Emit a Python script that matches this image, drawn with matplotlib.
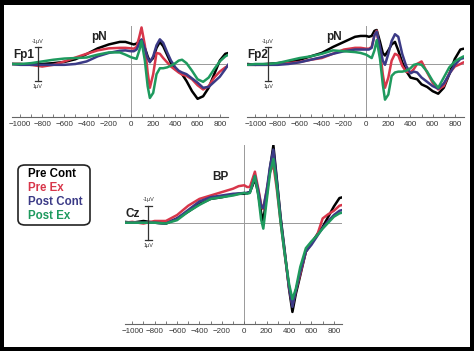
import numpy as np
import matplotlib
matplotlib.use('Agg')
import matplotlib.pyplot as plt
from matplotlib.patches import Rectangle, FancyBboxPatch

plt.rcParams['font.family'] = ['Liberation Sans', 'DejaVu Sans']

# time axis (ms) shared by all panels
t = [-1070, -1000, -900, -800, -700, -600, -500, -400, -300, -200, -100, -50, 0, 25, 50, 75, 95,
     125, 150, 170, 200, 230, 260, 290, 325, 360, 400, 430, 460, 500, 550, 600, 650, 700, 750,
     800, 850, 880]

# amplitudes in microvolts (negative is plotted upward)
fp1_pre_cont = [0.0, 0.0, 0.05, 0.0, -0.05, -0.12, -0.28, -0.58, -0.92, -1.15, -1.3, -1.3, -1.2, -1.15, -1.2,
                -1.35, -1.4, -0.95, -0.45, -0.15, -0.35, -0.95, -1.3, -1.05, -0.55, -0.05, 0.3, 0.45, 0.6,
                1.0, 1.6, 2.05, 1.9, 1.4, 0.6, -0.2, -0.6, -0.65]
fp1_pre_ex = [0.0, 0.0, 0.05, 0.15, 0.05, -0.15, -0.38, -0.6, -0.8, -0.92, -0.95, -0.95, -0.92, -0.9, -1.0,
              -1.6, -2.15, -1.1, 0.5, 1.4, 0.6, -0.65, -0.6, -0.35, -0.1, 0.15, 0.35, 0.5, 0.62, 0.7, 0.9,
              1.25, 1.5, 1.3, 0.8, 0.45, 0.2, 0.1]
fp1_post_cont = [0.0, 0.05, 0.05, 0.05, 0.05, 0.05, 0.0, -0.15, -0.45, -0.65, -0.78, -0.8, -0.75, -0.75, -0.85,
                 -1.2, -1.45, -0.9, -0.35, -0.1, -0.45, -1.1, -1.45, -1.25, -0.7, -0.2, 0.2, 0.4, 0.5, 0.6,
                 0.85, 1.1, 1.4, 1.35, 1.05, 0.75, 0.3, 0.0]
fp1_post_ex = [0.0, 0.0, -0.05, -0.15, -0.25, -0.32, -0.35, -0.38, -0.55, -0.68, -0.68, -0.55, -0.4, -0.35,
               -0.3, -0.8, -1.35, -0.2, 1.3, 2.0, 1.7, 0.6, 0.25, 0.25, 0.2, 0.1, -0.05, -0.2, -0.25, -0.05,
               0.4, 0.9, 1.05, 0.8, 0.3, -0.15, -0.45, -0.55]

fp2_pre_cont = [0.0, 0.05, 0.0, -0.05, -0.12, -0.25, -0.45, -0.65, -1.0, -1.3, -1.6, -1.65, -1.65, -1.6, -1.65,
                -1.95, -2.0, -1.3, -0.65, -0.5, -0.8, -1.15, -1.3, -0.8, -0.1, 0.4, 0.8, 0.85, 0.9, 1.2, 1.35,
                1.6, 1.75, 1.4, 0.6, -0.3, -0.85, -0.9]
fp2_pre_ex = [0.05, 0.05, 0.05, 0.0, -0.05, -0.12, -0.25, -0.35, -0.6, -0.85, -0.95, -0.95, -0.9, -0.9, -1.0,
              -1.7, -1.95, -0.8, 0.6, 1.4, 0.8, -0.2, -0.6, -0.5, 0.1, 0.45, 0.5, 0.3, 0.0, -0.15, 0.5, 1.1,
              1.5, 1.3, 0.55, 0.15, 0.0, -0.1]
fp2_post_cont = [0.05, 0.05, 0.05, 0.05, 0.0, -0.1, -0.25, -0.4, -0.6, -0.75, -0.85, -0.85, -0.85, -0.85,
                 -0.95, -1.7, -1.9, -1.0, -0.2, 0.05, -0.6, -1.35, -1.75, -1.6, -0.6, 0.1, 0.55, 0.45, 0.5,
                 0.8, 1.05, 1.3, 1.45, 1.15, 0.6, 0.05, -0.3, -0.35]
fp2_post_ex = [0.05, 0.0, 0.0, -0.05, -0.2, -0.35, -0.45, -0.6, -0.8, -0.75, -0.7, -0.65, -0.55, -0.45, -0.35,
               -0.8, -1.4, -0.3, 1.2, 2.1, 1.8, 0.7, 0.5, 0.45, 0.45, 0.4, 0.25, 0.05, 0.0, 0.05, 0.45, 1.0,
               1.4, 0.8, 0.2, -0.15, -0.35, -0.45]

cz_pre_cont = [-0.05, 0.0, -0.1, 0.0, 0.05, -0.25, -0.65, -1.1, -1.4, -1.5, -1.65, -1.7, -1.7, -1.75, -1.8,
               -2.2, -2.6, -1.7, -0.6, -0.1, -1.6, -3.2, -4.55, -2.6, -0.3, 1.6, 3.9, 5.25, 4.2, 3.1, 1.7,
               1.2, 0.7, 0.25, -0.35, -0.95, -1.45, -1.5]
cz_pre_ex = [0.0, -0.05, 0.05, -0.1, -0.1, -0.45, -1.0, -1.4, -1.6, -1.8, -2.0, -2.15, -2.2, -2.1, -2.1, -2.6,
             -3.0, -2.0, -1.1, -0.8, -1.9, -3.0, -3.4, -2.0, 0.0, 1.8, 3.8, 4.85, 4.0, 3.0, 1.7, 1.2, 0.75,
             -0.25, -0.5, -0.7, -1.0, -1.05]
cz_post_cont = [0.0, 0.0, 0.0, 0.0, 0.05, -0.25, -0.75, -1.25, -1.5, -1.6, -1.7, -1.72, -1.75, -1.75, -1.8,
                -2.3, -2.75, -1.9, -1.0, -0.85, -1.9, -3.3, -4.3, -2.5, -0.2, 1.7, 3.8, 4.95, 4.0, 2.9, 1.7,
                1.3, 0.8, 0.3, -0.1, -0.45, -0.7, -0.75]
cz_post_ex = [0.0, 0.0, 0.0, 0.0, 0.05, -0.15, -0.65, -1.05, -1.4, -1.5, -1.6, -1.68, -1.75, -1.7, -1.75,
              -2.3, -2.75, -1.6, -0.2, 0.35, -1.3, -2.9, -3.75, -2.2, 0.0, 1.8, 3.6, 4.5, 3.9, 2.6, 1.5, 1.1,
              0.75, 0.35, 0.0, -0.35, -0.55, -0.6]

conditions = ['Pre Cont', 'Pre Ex', 'Post Cont', 'Post Ex']
colors = ['#000000', '#d8364a', '#3b3a86', '#1e9a5e']
ticks = [-1000, -800, -600, -400, -200, 0, 200, 400, 600, 800]

W, H = 474, 351
fig = plt.figure(figsize=(W / 100, H / 100), dpi=100)
fig.patch.set_facecolor('black')
fig.patches.append(Rectangle((4 / W, 4 / H), 1 - 8 / W, 1 - 9 / H, transform=fig.transFigure,
                             facecolor='white', edgecolor='none', zorder=-10))


def box(x0, y0, x1, y1):
    # pixel box (top-left origin) -> figure fraction rect
    return [x0 / W, 1 - y1 / H, (x1 - x0) / W, (y1 - y0) / H]


def panel(rect, xlim, ylim, series, name, name_xy, comp, comp_xy, bar_x):
    ax = fig.add_axes(rect)
    ax.set_facecolor('none')
    ax.set_xlim(*xlim)
    ax.set_ylim(*ylim)
    for s in ['top', 'right', 'left']:
        ax.spines[s].set_visible(False)
    ax.spines['bottom'].set_color('#666666')
    ax.spines['bottom'].set_linewidth(0.8)
    ax.set_yticks([])
    ax.set_xticks(ticks)
    ax.set_xticks(np.arange(-1000, 900, 100), minor=True)
    ax.tick_params(axis='x', which='both', direction='in', length=2, width=0.6, color='#666666',
                   labelsize=5.8, labelcolor='#333333', pad=3)
    ax.axhline(0, color='#999999', lw=0.7, zorder=1)
    ax.axvline(0, color='#999999', lw=0.7, zorder=1)
    for y, c in zip(series, colors):
        ax.plot(t, y, color=c, lw=1.8, solid_capstyle='round', zorder=3, clip_on=True)
    # calibration bar
    ax.plot([bar_x, bar_x], [-1, 1], color='#333333', lw=0.9, zorder=4)
    ax.plot([bar_x - 30, bar_x + 30], [-1, -1], color='#333333', lw=0.9, zorder=4)
    ax.plot([bar_x - 30, bar_x + 30], [1, 1], color='#333333', lw=0.9, zorder=4)
    ax.text(bar_x, -1.2, '-1\u03bcV', ha='center', va='bottom', fontsize=4, color='#333333')
    ax.text(bar_x, 1.2, '1\u03bcV', ha='center', va='top', fontsize=4, color='#333333')
    ax.text(*name_xy, name, ha='left', va='center', fontsize=8.5, fontweight='bold', color='#222222', zorder=5)
    ax.text(*comp_xy, comp, ha='center', va='center', fontsize=8.5, fontweight='bold', color='#222222')
    return ax


panel(box(12, 25.75, 228, 117), (-1072, 874), (3.12, -2.25),
      [fp1_pre_cont, fp1_pre_ex, fp1_post_cont, fp1_post_ex],
      'Fp1', (-1065, -0.55), 'pN', (-284, -1.6), -838)
panel(box(247, 25.75, 463.7, 117), (-1075, 880), (3.12, -2.25),
      [fp2_pre_cont, fp2_pre_ex, fp2_post_cont, fp2_post_ex],
      'Fp2', (-1075, -0.55), 'pN', (-288, -1.6), -885)
panel(box(125, 145, 341.7, 324), (-1065, 870), (5.96, -4.57),
      [cz_pre_cont, cz_pre_ex, cz_post_cont, cz_post_ex],
      'Cz', (-1062, -0.5), 'BP', (-217, -2.66), -857)

# legend box
fig.patches.append(FancyBboxPatch((18 / W, 1 - 225 / H), 72 / W, 60 / H,
                                  boxstyle='round,pad=0,rounding_size=0.015',
                                  transform=fig.transFigure, facecolor='white',
                                  edgecolor='#222222', lw=1.2, zorder=2))
for i, (lab, c) in enumerate(zip(conditions, colors)):
    fig.text(28.5 / W, 1 - (174 + 13.9 * i) / H, lab, color=c, fontsize=8.3, fontweight='bold',
             ha='left', va='center', zorder=3)

fig.savefig('out.png', dpi=100, facecolor=fig.get_facecolor())
